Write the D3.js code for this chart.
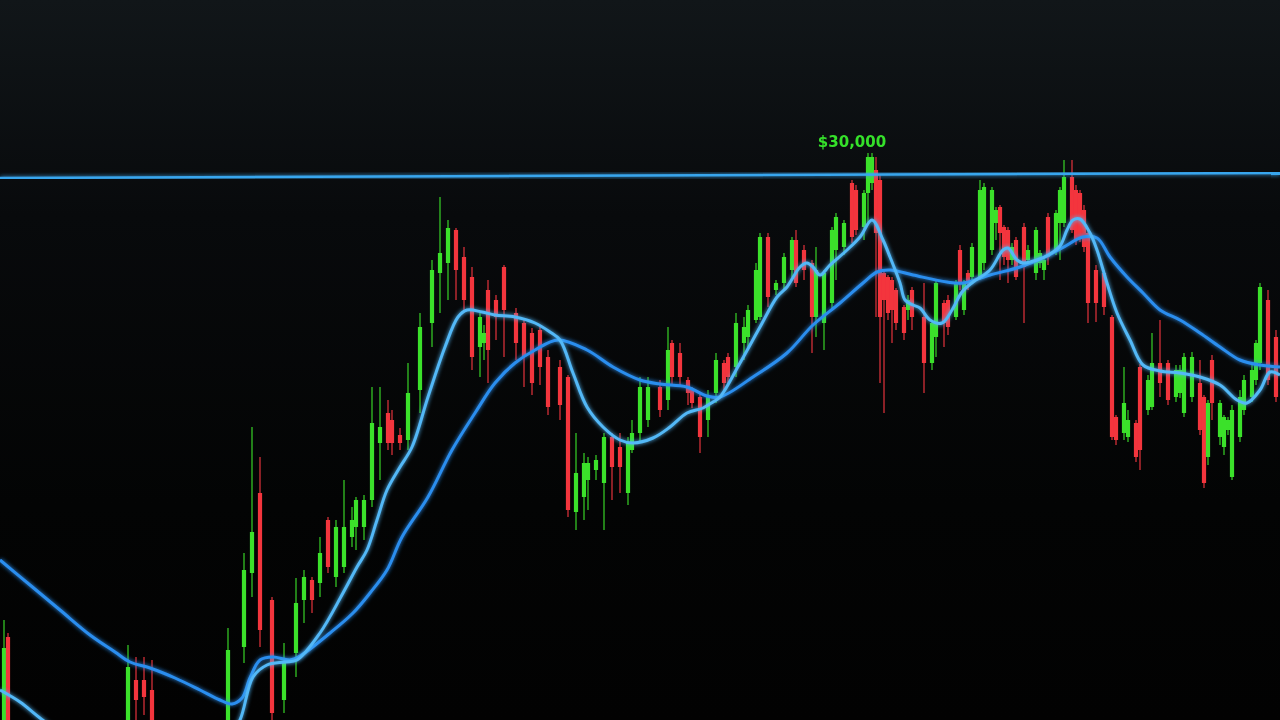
<!DOCTYPE html>
<html>
<head>
<meta charset="utf-8">
<script src="https://cdn.jsdelivr.net/npm/d3@7"></script>
<style>
  html, body { margin: 0; padding: 0; background: #000; overflow: hidden; }
  svg { display: block; }
</style>
</head>
<body>
<svg id="chart" width="1280" height="720"></svg>
<script>
// ---- DATA (price in chart points, bar slot on the time grid) ----
const slot  = [1,2,32,34,36,38,57,61,63,65,68,71,74,76,78,80,82,84,86,88,89,91,93,95,97,98,100,102,105,108,110,112,114,116,118,120,121,122,124,126,129,131,133,135,137,140,142,144,146,147,149,151,153,155,157,158,160,162,165,167,168,170,172,173,175,177,179,181,182,184,186,187,189,190,192,194,196,198,199,201,203,204,206,208,209,211,213,214,216,217,218,219,220,221,222,223,224,226,227,228,231,233,234,236,237,239,240,241,242,243,245,246,248,249,250,251,252,253,254,256,257,259,260,261,262,264,265,266,268,269,270,271,272,274,276,278,279,281,282,284,285,287,288,290,292,294,295,296,298,300,301,302,303,305,306,307,308,310,311,313,314,315,317,319];
const open  = [-5,83,-5,40,40,30,-5,73,147,227,120,20,67,120,140,137,200,143,153,183,193,193,220,277,307,300,285,280,330,397,447,457,490,463,443,373,377,430,420,453,407,397,387,390,363,353,343,208,223,240,250,237,283,273,227,270,287,300,333,320,377,367,340,330,323,300,327,357,363,353,377,383,400,403,483,430,437,450,480,470,457,403,397,417,470,473,537,530,493,527,537,550,540,447,443,440,430,413,410,430,403,357,383,417,420,403,470,410,447,443,443,457,470,497,513,493,490,460,480,493,460,447,457,450,503,470,497,497,543,530,527,510,487,450,447,403,303,287,283,297,353,310,313,357,357,323,327,307,323,337,323,263,360,283,273,290,243,283,310,323,340,357,420,383];
const high  = [100,87,75,63,63,60,92,167,293,263,123,77,142,150,143,183,203,200,240,213,223,225,333,333,320,310,292,357,407,460,523,500,492,473,453,407,395,440,425,455,412,400,392,395,370,360,345,287,267,263,265,287,287,287,283,300,343,343,340,393,380,377,343,333,326,330,367,360,367,407,403,415,457,487,487,440,467,483,490,475,460,473,450,493,507,500,540,535,530,567,567,563,545,450,445,443,432,415,425,433,437,400,440,420,425,440,475,440,450,477,540,537,533,513,515,495,493,477,483,497,475,493,470,463,507,510,533,560,560,535,530,515,490,455,450,405,305,353,310,300,356,345,387,400,360,355,355,367,368,360,325,320,365,320,305,303,315,330,345,355,380,437,430,390];
const low   = [-5,-5,-5,0,5,-5,-5,57,123,73,0,7,43,97,107,123,147,133,147,173,170,180,213,240,270,265,270,270,307,373,407,420,420,410,350,343,360,337,380,363,360,333,325,335,305,300,203,190,200,210,240,190,220,227,215,267,277,293,303,310,335,333,315,312,267,283,317,330,335,343,360,370,397,400,413,425,430,443,433,440,367,383,370,410,440,465,477,485,480,497,530,403,337,307,400,377,390,380,400,390,327,350,363,373,385,400,430,405,430,438,440,450,465,480,440,455,437,455,440,397,455,440,452,440,455,465,460,493,487,475,478,468,397,398,405,280,275,280,278,258,250,305,310,323,315,318,322,303,318,285,232,255,300,275,265,285,240,278,305,318,335,350,335,318];
const close = [72,-5,53,20,23,-5,70,150,188,90,7,57,117,143,120,167,153,193,193,200,220,220,297,293,277,277,277,327,393,450,467,492,450,420,363,403,387,370,403,410,377,363,337,353,313,315,210,247,257,257,260,283,253,253,277,287,333,333,310,370,343,343,327,317,283,323,360,337,343,397,393,410,450,483,423,437,463,480,437,450,403,450,447,490,503,497,483,490,527,563,563,487,403,420,407,410,397,387,420,403,357,397,437,397,393,437,437,437,437,473,530,533,530,510,487,463,460,473,443,453,470,490,467,460,463,507,530,543,490,480,483,473,417,417,413,283,280,317,300,263,270,340,357,337,320,350,350,363,363,290,237,317,317,317,303,300,310,323,340,350,377,433,340,323];

// moving averages: [slot, value]
const maFast = [[0,30],[5,18],[10,2],[17.5,-20],[32.5,-38],[47.5,-35],[57,-18],[60,0],[63.25,43],[66.75,55],[71.25,58],[74.25,60],[80,87],[85.75,127],[89.25,153],[91.75,170],[94.25,200],[96.75,230],[100,253],[103,273],[107,323],[111.25,373],[114.5,403],[116.75,410],[120.5,408],[123.75,405],[128.75,403],[133.75,397],[137.5,388],[140,380],[143.25,347],[146.75,313],[150.75,293],[155,280],[158.25,277],[163.25,282],[167.5,293],[171.75,307],[175.75,312],[178.25,318],[180,323],[185,357],[190,393],[194.25,423],[196.75,433],[200,453],[201.75,457],[203.25,453],[205,445],[207.5,455],[211.75,470],[215,483],[218,500],[220.75,480],[222.5,463],[225,437],[226.25,420],[228.25,415],[230,412],[232.5,400],[235.5,397],[238,410],[240.5,428],[243.25,438],[247.5,450],[250.75,470],[252,472],[254.25,460],[255.75,457],[259.25,460],[262.5,466],[265,474],[266.75,490],[268.25,500],[270,501],[272.5,487],[274.25,470],[276.75,437],[279.25,407],[282.5,380],[285.75,355],[290,349],[295,347],[300,343],[305,335],[309.25,320],[311.75,317],[315,330],[317.5,348],[320,345]];
const maSlow = [[0,160],[7.5,135],[15,110],[22.5,85],[28.75,68],[32.5,58],[37.5,52],[43.75,42],[50,30],[55,20],[58,16],[60.5,22],[62.5,42],[65,60],[68.25,63],[72.5,60],[75,64],[82.5,87],[88.25,107],[92.5,127],[96.75,150],[100.5,183],[107,223],[113,270],[118.75,307],[123.75,337],[128.75,357],[133.75,370],[139.5,380],[146.75,370],[153.25,353],[160,340],[165,336],[171.75,333],[176.75,324],[180,323],[188.25,343],[196.75,367],[203.25,395],[210,417],[215.75,437],[219.25,448],[222.5,450],[228.25,445],[236.75,438],[240.75,437],[247.5,445],[255,453],[260.75,462],[265.5,472],[270.75,483],[274.25,482],[277.5,463],[281.75,443],[285.75,427],[290,410],[295,400],[300,387],[305,373],[310,360],[315,355],[320,353]];

// resistance line level at the two ends of the view
const resistanceSlot  = [0, 320];
const resistanceValue = [542, 547];
const resistanceLabel = "$30,000";
const labelSlot = 213;

// ---- DRAW ----
const W = 1280, H = 720;
const svg = d3.select("#chart");
const x = d3.scaleLinear().domain([0, 320]).range([0, W]);
const y = d3.scaleLinear().domain([0, 720]).range([H, 0]);

const defs = svg.append("defs");
const bg = defs.append("linearGradient").attr("id", "bg").attr("x1", 0).attr("y1", 0).attr("x2", 0).attr("y2", 1);
bg.append("stop").attr("offset", "0%").attr("stop-color", "#111619");
bg.append("stop").attr("offset", "30%").attr("stop-color", "#080a0c");
bg.append("stop").attr("offset", "70%").attr("stop-color", "#030404");
bg.append("stop").attr("offset", "100%").attr("stop-color", "#020202");

const glow = defs.append("filter").attr("id", "glow").attr("x", "-5%").attr("y", "-5%").attr("width", "110%").attr("height", "110%");
glow.append("feGaussianBlur").attr("in", "SourceGraphic").attr("stdDeviation", 2.2).attr("result", "b");
const gm = glow.append("feMerge");
gm.append("feMergeNode").attr("in", "b");
gm.append("feMergeNode").attr("in", "SourceGraphic");

const soft = defs.append("filter").attr("id", "soft");
soft.append("feGaussianBlur").attr("stdDeviation", 0.6);

svg.append("rect").attr("width", W).attr("height", H).attr("fill", "url(#bg)");

const candles = slot.map((s, i) => ({ s, o: open[i], h: high[i], l: low[i], c: close[i] }));
const green = "#3be12c", red = "#f3343e";
const bw = 4.2;

const cg = svg.append("g").attr("filter", "url(#soft)");
cg.selectAll("line.wick").data(candles).join("line")
  .attr("class", "wick")
  .attr("x1", d => x(d.s)).attr("x2", d => x(d.s))
  .attr("y1", d => y(d.h)).attr("y2", d => y(d.l))
  .attr("stroke", d => d.c >= d.o ? green : red)
  .attr("stroke-opacity", 0.7)
  .attr("stroke-width", 1.6);
cg.selectAll("rect.body").data(candles).join("rect")
  .attr("class", "body")
  .attr("x", d => x(d.s) - bw / 2)
  .attr("width", bw)
  .attr("y", d => y(Math.max(d.o, d.c)))
  .attr("height", d => Math.max(2, Math.abs(y(d.o) - y(d.c))))
  .attr("fill", d => d.c >= d.o ? green : red);

// resistance line
svg.append("line")
  .attr("x1", x(resistanceSlot[0])).attr("x2", x(resistanceSlot[1]))
  .attr("y1", y(resistanceValue[0])).attr("y2", y(resistanceValue[1]))
  .attr("stroke", "#39a6ee").attr("stroke-width", 2.4)
  .attr("filter", "url(#glow)");

// moving averages
const line = d3.line().x(d => x(d[0])).y(d => y(d[1])).curve(d3.curveCatmullRom.alpha(0.5));
svg.append("path").datum(maSlow).attr("d", line)
  .attr("fill", "none").attr("stroke", "#2b8eef").attr("stroke-width", 3)
  .attr("filter", "url(#glow)");
svg.append("path").datum(maFast).attr("d", line)
  .attr("fill", "none").attr("stroke", "#52b8f7").attr("stroke-width", 3)
  .attr("filter", "url(#glow)");

// label
svg.append("text")
  .attr("x", x(labelSlot)).attr("y", y(resistanceValue[0] + 31))
  .attr("text-anchor", "middle")
  .attr("font-family", "DejaVu Sans, sans-serif")
  .attr("font-weight", "bold")
  .attr("font-size", 15)
  .attr("fill", "#35e12a")
  .attr("filter", "url(#soft)")
  .text(resistanceLabel);
</script>
</body>
</html>
